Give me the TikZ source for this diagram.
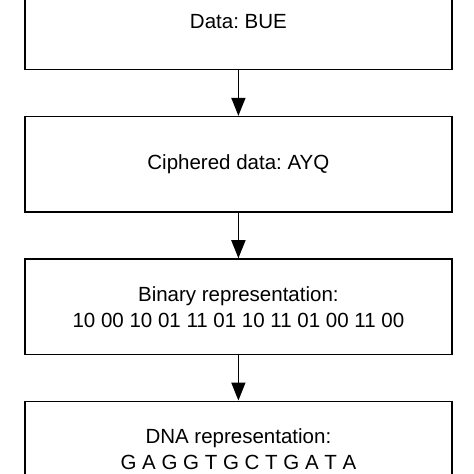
\documentclass[tikz,border=0pt]{standalone}
\usepackage{fontspec}
\setmainfont{Liberation Sans}
\usetikzlibrary{arrows.meta}
\frenchspacing
\begin{document}
\begin{tikzpicture}[x=1pt,y=1pt,
  stage/.style={draw, line width=1.6pt, minimum width=426.7pt, minimum height=95.3pt,
    align=center, font=\fontsize{20.5}{26}\selectfont},
  flow/.style={draw, line width=1.6pt, -{Triangle[width=14pt,length=18pt]}}]
\useasboundingbox (0,0) rectangle (474,474);
\node[stage] (1) at (238.4,452) {Data: BUE};
\node[stage] (2) at (238.4,309.7) {Ciphered data: AYQ};
\node[stage] (3) at (238.4,167.3) {Binary representation:\\10 00 10 01 11 01 10 11 01 00 11 00};
\node[stage] (4) at (238.4,25) {DNA representation:\\G A G G T G C T G A T A};

\path[flow] (1) -- (2);
\path[flow] (2) -- (3);
\path[flow] (3) -- (4);
\end{tikzpicture}
\end{document}
